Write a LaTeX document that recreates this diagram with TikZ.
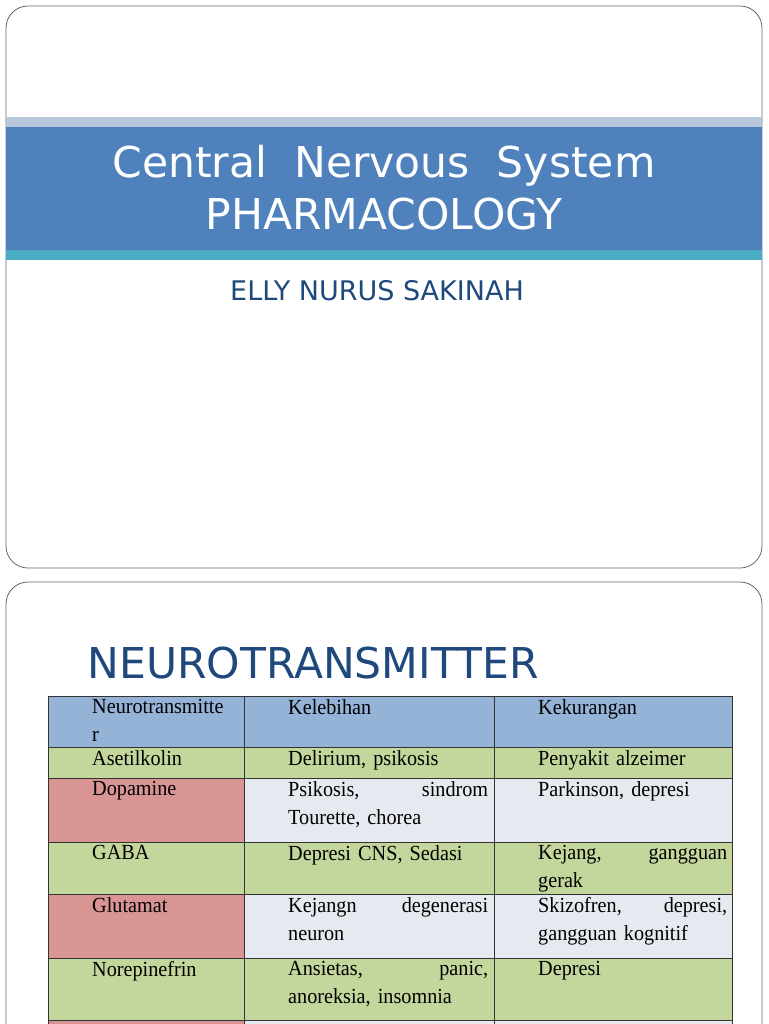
\documentclass[tikz,border=0pt]{standalone}
\usepackage{fontspec}
\setmainfont{Liberation Serif}[FakeStretch=0.94]
\newfontfamily\dvs{DejaVu Sans}
\definecolor{band}{HTML}{4F81BD}
\definecolor{lband}{HTML}{B8C7DC}
\definecolor{tband}{HTML}{4BACC6}
\definecolor{dblue}{HTML}{1F497D}
\definecolor{hdr}{HTML}{95B3D7}
\definecolor{grn}{HTML}{C3D69B}
\definecolor{rd}{HTML}{D99594}
\definecolor{lt}{HTML}{E6E9F0}
\begin{document}
\begin{tikzpicture}[x=1pt,y=-1pt,
  slide/.style={draw=black!60,line width=0.8pt,rounded corners=22pt,fill=white},
  cell/.style={draw=black!80,line width=0.8pt},
  txt/.style={anchor=north west,inner sep=0pt,font=\fontsize{21.5}{28}\selectfont,text width=#1,align=left},
  txt/.default=195]
\useasboundingbox (0,0) rectangle (768,1024);
\draw[slide] (6,6) rectangle (762,568);
\draw[slide] (6,582) rectangle (762,1060);
\fill[lband] (6,117) rectangle (762,127);
\fill[band] (6,127) rectangle (762,250);
\fill[tband] (6,250) rectangle (762,260);
\node[text=white,font=\dvs\fontsize{42.5}{52}\selectfont,align=center] (title) at (384,188) {Central\ \ Nervous\ \ System\\PHARMACOLOGY};
\node[text=dblue,font=\dvs\fontsize{27}{30}\selectfont] (sub) at (377,291) {ELLY NURUS SAKINAH};
\node[text=dblue,font=\dvs\fontsize{42.5}{48}\selectfont,anchor=west] (nt) at (84,663) {NEUROTRANSMITTER};
\def\xa{48}\def\xb{244}\def\xc{494}\def\xd{732}
\foreach \ya/\yb/\ca/\cb in {696/747/hdr/hdr,747/778/grn/grn,778/842/rd/lt,842/894/grn/grn,894/958/rd/lt,958/1020/grn/grn,1020/1030/rd/lt}{
  \filldraw[cell,fill=\ca] (\xa,\ya) rectangle (\xb,\yb);
  \filldraw[cell,fill=\cb] (\xb,\ya) rectangle (\xc,\yb);
  \filldraw[cell,fill=\cb] (\xc,\ya) rectangle (\xd,\yb);
}
\node[txt=150] (h1) at (92,699) {Neurotransmitte\\r};
\node[txt] (h2) at (288,699) {Kelebihan};
\node[txt=189] (h3) at (538,699) {Kekurangan};
\node[txt] (a1) at (92,750) {Asetilkolin};
\node[txt] (a2) at (288,750) {Delirium, psikosis};
\node[txt=189] (a3) at (538,750) {Penyakit alzeimer};
\node[txt] (b1) at (92,781) {Dopamine};
\node[txt=200] (b2) at (288,781) {Psikosis,\hfill sindrom\\Tourette, chorea};
\node[txt=189] (b3) at (538,781) {Parkinson, depresi};
\node[txt] (c1) at (92,845) {GABA};
\node[txt=200] (c2) at (288,845) {Depresi CNS, Sedasi};
\node[txt=189] (c3) at (538,845) {Kejang,\hfill gangguan\\gerak};
\node[txt] (d1) at (92,897) {Glutamat};
\node[txt=200] (d2) at (288,897) {Kejangn\hfill degenerasi\\neuron};
\node[txt=189] (d3) at (538,897) {Skizofren,\hfill depresi,\\gangguan kognitif};
\node[txt] (e1) at (92,961) {Norepinefrin};
\node[txt=200] (e2) at (288,961) {Ansietas,\hfill panic,\\anoreksia, insomnia};
\node[txt=189] (e3) at (538,961) {Depresi};
\end{tikzpicture}
\end{document}
